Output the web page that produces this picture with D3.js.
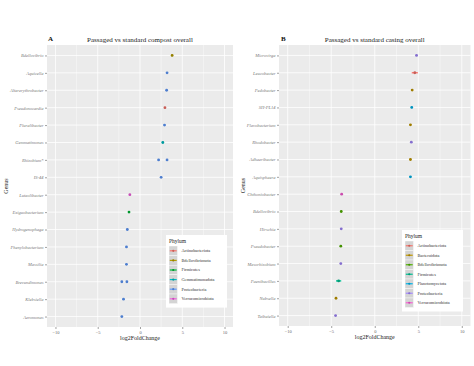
<!DOCTYPE html>
<html>
<head>
<meta charset="utf-8">
<script src="https://cdn.jsdelivr.net/npm/d3@7"></script>
<style>
  body { margin: 0; background: #fff; }
  svg { display: block; }
  text { font-family: "Liberation Serif", "DejaVu Serif", serif; }
</style>
</head>
<body>
<div id="chart"></div>
<script>
// ---- data: panel A (compost) ----
const genusA = ["Bdellovibrio", "Aquicella", "Altererythrobacter", "Pseudonocardia", "Pluralibacter",
    "Gemmatimonas", "Rhizobium*", "IS-44", "Luteolibacter", "Exiguobacterium", "Hydrogenophaga",
    "Phenylobacterium", "Massilia", "Brevundimonas", "Klebsiella", "Aeromonas"];
const phylaA = ["Actinobacteriota", "Bdellovibrionota", "Firmicutes", "Gemmatimonadota",
    "Proteobacteria", "Verrucomicrobiota"];
const colorsA = ["#F8766D", "#B79F00", "#00BA38", "#00BFC4", "#619CFF", "#F564E3"];
const pointGenusA = ["Bdellovibrio", "Aquicella", "Altererythrobacter", "Pseudonocardia", "Pluralibacter",
    "Gemmatimonas", "Rhizobium*", "Rhizobium*", "IS-44", "Luteolibacter", "Exiguobacterium",
    "Hydrogenophaga", "Phenylobacterium", "Massilia", "Brevundimonas", "Brevundimonas",
    "Klebsiella", "Aeromonas"];
const pointPhylumA = ["Bdellovibrionota", "Proteobacteria", "Proteobacteria", "Actinobacteriota",
    "Proteobacteria", "Gemmatimonadota", "Proteobacteria", "Proteobacteria", "Proteobacteria",
    "Verrucomicrobiota", "Firmicutes", "Proteobacteria", "Proteobacteria", "Proteobacteria",
    "Proteobacteria", "Proteobacteria", "Proteobacteria", "Proteobacteria"];
const lfcA = [3.8, 3.2, 3.15, 2.95, 2.9, 2.7, 2.2, 3.2, 2.5, -1.2, -1.3, -1.5, -1.6, -1.6, -2.15, -1.55, -1.95, -2.15];
const seA = [0.12, 0.1, 0.1, 0.1, 0.1, 0.12, 0.1, 0.1, 0.1, 0.12, 0.12, 0.1, 0.1, 0.1, 0.1, 0.1, 0.1, 0.1];

// ---- data: panel B (casing) ----
const genusB = ["Microvirga", "Leucobacter", "Pedobacter", "SH-PL14", "Flavobacterium", "Rhodobacter",
    "Adhaeribacter", "Aquisphaera", "Chthoniobacter", "Bdellovibrio", "Hirschia", "Pseudobacter",
    "Mesorhizobium", "Paenibacillus", "Nubsella", "Taibaiella"];
const phylaB = ["Actinobacteriota", "Bacteroidota", "Bdellovibrionota", "Firmicutes",
    "Planctomycetota", "Proteobacteria", "Verrucomicrobiota"];
const colorsB = ["#F8766D", "#C49A00", "#53B400", "#00C094", "#00B6EB", "#A58AFF", "#FB61D7"];
const pointGenusB = genusB.slice();
const pointPhylumB = ["Proteobacteria", "Actinobacteriota", "Bacteroidota", "Planctomycetota",
    "Bacteroidota", "Proteobacteria", "Bacteroidota", "Planctomycetota", "Verrucomicrobiota",
    "Bdellovibrionota", "Proteobacteria", "Bdellovibrionota", "Proteobacteria", "Firmicutes",
    "Bacteroidota", "Proteobacteria"];
const lfcB = [4.8, 4.6, 4.3, 4.25, 4.1, 4.2, 4.1, 4.1, -3.8, -3.85, -3.85, -3.9, -3.9, -4.15, -4.45, -4.5];
const seB = [0.1, 0.35, 0.1, 0.1, 0.1, 0.1, 0.1, 0.1, 0.1, 0.1, 0.1, 0.1, 0.1, 0.3, 0.1, 0.1];

const xTicks = [-10, -5, 0, 5, 10];

const width = 474, height = 366;
const svg = d3.select("#chart").append("svg")
    .attr("width", width)
    .attr("height", height);

function drawPanel(p) {
    const g = svg.append("g");

    let x = d3.scaleLinear().domain([-11, 11]).range([p.left, p.right]);
    let y = d3.scalePoint().domain(p.genus).range([p.top, p.bottom]).padding(0.6);
    let color = d3.scaleOrdinal().domain(p.phyla).range(p.colors);

    // panel background
    g.append("rect")
        .attr("x", p.left).attr("y", p.top)
        .attr("width", p.right - p.left).attr("height", p.bottom - p.top)
        .attr("fill", "#EBEBEB");

    // minor + major grid
    let minor = [-7.5, -2.5, 2.5, 7.5];
    g.selectAll(".minor").data(minor).join("line")
        .attr("x1", d => x(d)).attr("x2", d => x(d))
        .attr("y1", p.top).attr("y2", p.bottom)
        .attr("stroke", "#fff").attr("stroke-width", 0.4);
    g.selectAll(".majx").data(xTicks).join("line")
        .attr("x1", d => x(d)).attr("x2", d => x(d))
        .attr("y1", p.top).attr("y2", p.bottom)
        .attr("stroke", "#fff").attr("stroke-width", 0.8);
    g.selectAll(".majy").data(p.genus).join("line")
        .attr("x1", p.left).attr("x2", p.right)
        .attr("y1", d => y(d)).attr("y2", d => y(d))
        .attr("stroke", "#fff").attr("stroke-width", 0.8);

    // axes
    let xAxis = g.append("g")
        .attr("transform", `translate(0, ${p.bottom})`)
        .call(d3.axisBottom(x).tickValues(xTicks).tickSize(2).tickPadding(1.5));
    xAxis.select(".domain").remove();
    xAxis.selectAll("line").attr("stroke", "#444").attr("stroke-width", 0.5);
    xAxis.selectAll("text").attr("fill", "#666").style("font-size", "4.5px")
        .style("font-family", "Liberation Serif, serif");

    let yAxis = g.append("g")
        .attr("transform", `translate(${p.left}, 0)`)
        .call(d3.axisLeft(y).tickSize(2).tickPadding(1.5));
    yAxis.select(".domain").remove();
    yAxis.selectAll("line").attr("stroke", "#444").attr("stroke-width", 0.5);
    yAxis.selectAll("text").attr("fill", "#777").style("font-size", "4.5px")
        .style("font-style", "italic")
        .style("font-family", "Liberation Serif, serif");

    // error bars + points
    let pts = p.pointGenus.map((gname, i) => ({
        genus: gname, lfc: p.lfc[i], se: p.se[i], phylum: p.pointPhylum[i]
    }));
    g.selectAll(".err").data(pts).join("line")
        .attr("x1", d => x(d.lfc - d.se)).attr("x2", d => x(d.lfc + d.se))
        .attr("y1", d => y(d.genus)).attr("y2", d => y(d.genus))
        .attr("stroke", d => color(d.phylum)).attr("stroke-width", 1.4);
    g.selectAll(".pt").data(pts).join("circle")
        .attr("cx", d => x(d.lfc)).attr("cy", d => y(d.genus))
        .attr("r", 1.4)
        .attr("fill", d => d3.color(color(d.phylum)).darker(0.6));

    // titles
    g.append("text")
        .attr("x", (p.left + p.right) / 2).attr("y", p.top - 3)
        .attr("text-anchor", "middle")
        .style("font-size", "7px").attr("fill", "#222")
        .text(p.title);
    g.append("text")
        .attr("x", p.tagX).attr("y", p.top - 4)
        .style("font-size", "7px").style("font-weight", "bold").attr("fill", "#111")
        .text(p.tag);
    g.append("text")
        .attr("x", (p.left + p.right) / 2).attr("y", p.bottom + 13)
        .attr("text-anchor", "middle")
        .style("font-size", "6px").attr("fill", "#222")
        .text("log2FoldChange");
    g.append("text")
        .attr("transform", `translate(${p.genusX}, ${(p.top + p.bottom) / 2}) rotate(-90)`)
        .attr("text-anchor", "middle")
        .style("font-size", "6px").attr("fill", "#222")
        .text("Genus");

    // legend
    let lg = g.append("g").attr("transform", `translate(${p.legX}, ${p.legY})`);
    let legH = 13 + p.phyla.length * p.keyStep + 2;
    lg.append("rect")
        .attr("x", 0).attr("y", 0)
        .attr("width", p.legW).attr("height", legH)
        .attr("fill", "#fff");
    lg.append("text")
        .attr("x", 3).attr("y", 7.5)
        .style("font-size", "5.5px").attr("fill", "#222")
        .text("Phylum");
    let keys = lg.selectAll(".key").data(p.phyla).join("g")
        .attr("transform", (d, i) => `translate(3, ${11 + i * p.keyStep})`);
    keys.append("rect")
        .attr("width", 8.5).attr("height", p.keyStep)
        .attr("fill", "#D4D4D4").attr("stroke", "#fff").attr("stroke-width", 0.4);
    keys.append("line")
        .attr("x1", 0.8).attr("x2", 7.7)
        .attr("y1", p.keyStep / 2).attr("y2", p.keyStep / 2)
        .attr("stroke", d => color(d)).attr("stroke-width", 1.2);
    keys.append("circle")
        .attr("cx", 4.25).attr("cy", p.keyStep / 2).attr("r", 1.1)
        .attr("fill", d => d3.color(color(d)).darker(0.6));
    keys.append("text")
        .attr("x", 12.5).attr("y", p.keyStep / 2 + 1.5)
        .style("font-size", "4.3px").attr("fill", "#333")
        .text(d => d);
}

drawPanel({
    genus: genusA, phyla: phylaA, colors: colorsA,
    pointGenus: pointGenusA, pointPhylum: pointPhylumA, lfc: lfcA, se: seA,
    left: 47, right: 233, top: 45, bottom: 327,
    title: "Passaged vs standard compost overall", tag: "A", tagX: 48, genusX: 8,
    legX: 166, legY: 235, legW: 61, keyStep: 9.6
});

drawPanel({
    genus: genusB, phyla: phylaB, colors: colorsB,
    pointGenus: pointGenusB, pointPhylum: pointPhylumB, lfc: lfcB, se: seB,
    left: 279, right: 470.5, top: 45, bottom: 326,
    title: "Passaged vs standard casing overall", tag: "B", tagX: 281, genusX: 245,
    legX: 402, legY: 230, legW: 61, keyStep: 9.5
});
</script>
</body>
</html>
